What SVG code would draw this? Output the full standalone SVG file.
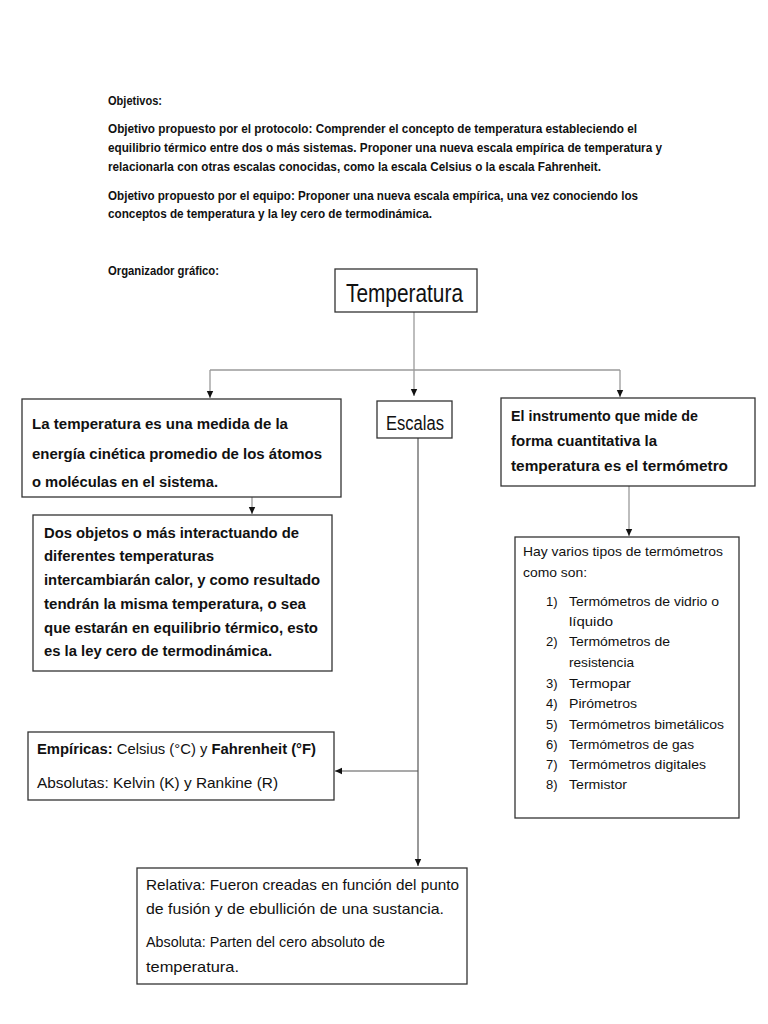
<svg xmlns="http://www.w3.org/2000/svg" width="768" height="1024" viewBox="0 0 768 1024">
<style>
text{font-family:"Liberation Sans",Arial,sans-serif;fill:#111;}
.h{font-size:12px;font-weight:bold;}
.b{font-size:14.5px;font-weight:bold;}
.r{font-size:14.5px;}
.s{font-size:13px;}
.box{fill:#fff;stroke:#333;stroke-width:1.3;}
.c{fill:none;stroke:#9a9a9a;stroke-width:1.3;}
.cd{fill:none;stroke:#555;stroke-width:1.2;}
</style>
<defs>
<marker id="ah" markerWidth="8" markerHeight="8" refX="7" refY="4" orient="auto" markerUnits="userSpaceOnUse">
<path d="M0,0.8 L7,4 L0,7.2 Z" fill="#111"/>
</marker>
</defs>
<rect width="768" height="1024" fill="#fff"/>

<g id="header">
<text class="h" x="108" y="105" textLength="54" lengthAdjust="spacingAndGlyphs">Objetivos:</text>
<text class="h" x="108" y="133" textLength="529" lengthAdjust="spacingAndGlyphs">Objetivo propuesto por el protocolo: Comprender el concepto de temperatura estableciendo el</text>
<text class="h" x="108" y="152" textLength="554" lengthAdjust="spacingAndGlyphs">equilibrio térmico entre dos o más sistemas. Proponer una nueva escala empírica de temperatura y</text>
<text class="h" x="108" y="171" textLength="493" lengthAdjust="spacingAndGlyphs">relacionarla con otras escalas conocidas, como la escala Celsius o la escala Fahrenheit.</text>
<text class="h" x="108" y="200" textLength="530" lengthAdjust="spacingAndGlyphs">Objetivo propuesto por el equipo: Proponer una nueva escala empírica, una vez conociendo los</text>
<text class="h" x="108" y="218" textLength="324" lengthAdjust="spacingAndGlyphs">conceptos de temperatura y la ley cero de termodinámica.</text>
<text class="h" x="108" y="275" textLength="111" lengthAdjust="spacingAndGlyphs">Organizador gráfico:</text>
</g>

<g id="connectors">
<path class="c" d="M414,312 V396" marker-end="url(#ah)"/>
<path class="c" d="M210,370 H620"/>
<path class="c" d="M210,370 V398" marker-end="url(#ah)"/>
<path class="c" d="M620,370 V397" marker-end="url(#ah)"/>
<path class="c" d="M252,497 V514" marker-end="url(#ah)"/>
<path class="c" d="M629,486 V536" marker-end="url(#ah)"/>
<path class="cd" d="M418,438 V866" marker-end="url(#ah)"/>
<path class="cd" d="M418,771 H335" marker-end="url(#ah)"/>
</g>

<g id="temperatura">
<rect class="box" x="335" y="269" width="142" height="43"/>
<text x="346" y="302" style="font-size:25px" textLength="117" lengthAdjust="spacingAndGlyphs">Temperatura</text>
</g>

<g id="escalas">
<rect class="box" x="377" y="401" width="75" height="37"/>
<text x="386" y="430" style="font-size:20px" textLength="58" lengthAdjust="spacingAndGlyphs">Escalas</text>
</g>

<g id="definicion">
<rect class="box" x="22" y="399" width="319" height="98"/>
<text class="b" x="32" y="429" textLength="256" lengthAdjust="spacingAndGlyphs">La temperatura es una medida de la</text>
<text class="b" x="32" y="459" textLength="290" lengthAdjust="spacingAndGlyphs">energía cinética promedio de los átomos</text>
<text class="b" x="32" y="487" textLength="186" lengthAdjust="spacingAndGlyphs">o moléculas en el sistema.</text>
</g>

<g id="ley-cero">
<rect class="box" x="33" y="515" width="299" height="156"/>
<text class="b" x="44" y="538" textLength="255" lengthAdjust="spacingAndGlyphs">Dos objetos o más interactuando de</text>
<text class="b" x="44" y="561" textLength="170" lengthAdjust="spacingAndGlyphs">diferentes temperaturas</text>
<text class="b" x="44" y="585" textLength="276" lengthAdjust="spacingAndGlyphs">intercambiarán calor, y como resultado</text>
<text class="b" x="44" y="609" textLength="262" lengthAdjust="spacingAndGlyphs">tendrán la misma temperatura, o sea</text>
<text class="b" x="44" y="633" textLength="274" lengthAdjust="spacingAndGlyphs">que estarán en equilibrio térmico, esto</text>
<text class="b" x="44" y="656" textLength="228" lengthAdjust="spacingAndGlyphs">es la ley cero de termodinámica.</text>
</g>

<g id="instrumento">
<rect class="box" x="501" y="398" width="254" height="88"/>
<text class="b" x="511" y="421" textLength="187" lengthAdjust="spacingAndGlyphs">El instrumento que mide de</text>
<text class="b" x="511" y="446" textLength="146" lengthAdjust="spacingAndGlyphs">forma cuantitativa la</text>
<text class="b" x="511" y="471" textLength="217" lengthAdjust="spacingAndGlyphs">temperatura es el termómetro</text>
</g>

<g id="tipos">
<rect class="box" x="515" y="537" width="224" height="281"/>
<text class="s" x="523" y="556" textLength="200" lengthAdjust="spacingAndGlyphs">Hay varios tipos de termómetros</text>
<text class="s" x="523" y="577" textLength="64" lengthAdjust="spacingAndGlyphs">como son:</text>
<text class="s" x="546" y="606">1)</text>
<text class="s" x="569" y="606" textLength="150" lengthAdjust="spacingAndGlyphs">Termómetros de vidrio o</text>
<text class="s" x="569" y="626" textLength="44" lengthAdjust="spacingAndGlyphs">líquido</text>
<text class="s" x="546" y="646">2)</text>
<text class="s" x="569" y="646" textLength="101" lengthAdjust="spacingAndGlyphs">Termómetros de</text>
<text class="s" x="569" y="667" textLength="65" lengthAdjust="spacingAndGlyphs">resistencia</text>
<text class="s" x="546" y="688">3)</text>
<text class="s" x="569" y="688" textLength="62" lengthAdjust="spacingAndGlyphs">Termopar</text>
<text class="s" x="546" y="708">4)</text>
<text class="s" x="569" y="708" textLength="68" lengthAdjust="spacingAndGlyphs">Pirómetros</text>
<text class="s" x="546" y="729">5)</text>
<text class="s" x="569" y="729" textLength="155" lengthAdjust="spacingAndGlyphs">Termómetros bimetálicos</text>
<text class="s" x="546" y="749">6)</text>
<text class="s" x="569" y="749" textLength="125" lengthAdjust="spacingAndGlyphs">Termómetros de gas</text>
<text class="s" x="546" y="769">7)</text>
<text class="s" x="569" y="769" textLength="137" lengthAdjust="spacingAndGlyphs">Termómetros digitales</text>
<text class="s" x="546" y="789">8)</text>
<text class="s" x="569" y="789" textLength="58" lengthAdjust="spacingAndGlyphs">Termistor</text>
</g>

<g id="empiricas">
<rect class="box" x="28" y="732" width="306" height="68"/>
<text class="r" x="37" y="754" textLength="279" lengthAdjust="spacingAndGlyphs"><tspan font-weight="bold">Empíricas:</tspan> Celsius (°C) y <tspan font-weight="bold">Fahrenheit (°F)</tspan></text>
<text class="r" x="37" y="788" textLength="241" lengthAdjust="spacingAndGlyphs">Absolutas: Kelvin (K) y Rankine (R)</text>
</g>

<g id="relativa">
<rect class="box" x="137" y="868" width="330" height="116"/>
<text class="r" x="146" y="890" textLength="313" lengthAdjust="spacingAndGlyphs">Relativa: Fueron creadas en función del punto</text>
<text class="r" x="146" y="914" textLength="298" lengthAdjust="spacingAndGlyphs">de fusión y de ebullición de una sustancia.</text>
<text class="r" x="146" y="947" textLength="239" lengthAdjust="spacingAndGlyphs">Absoluta: Parten del cero absoluto de</text>
<text class="r" x="146" y="972" textLength="93" lengthAdjust="spacingAndGlyphs">temperatura.</text>
</g>
</svg>
